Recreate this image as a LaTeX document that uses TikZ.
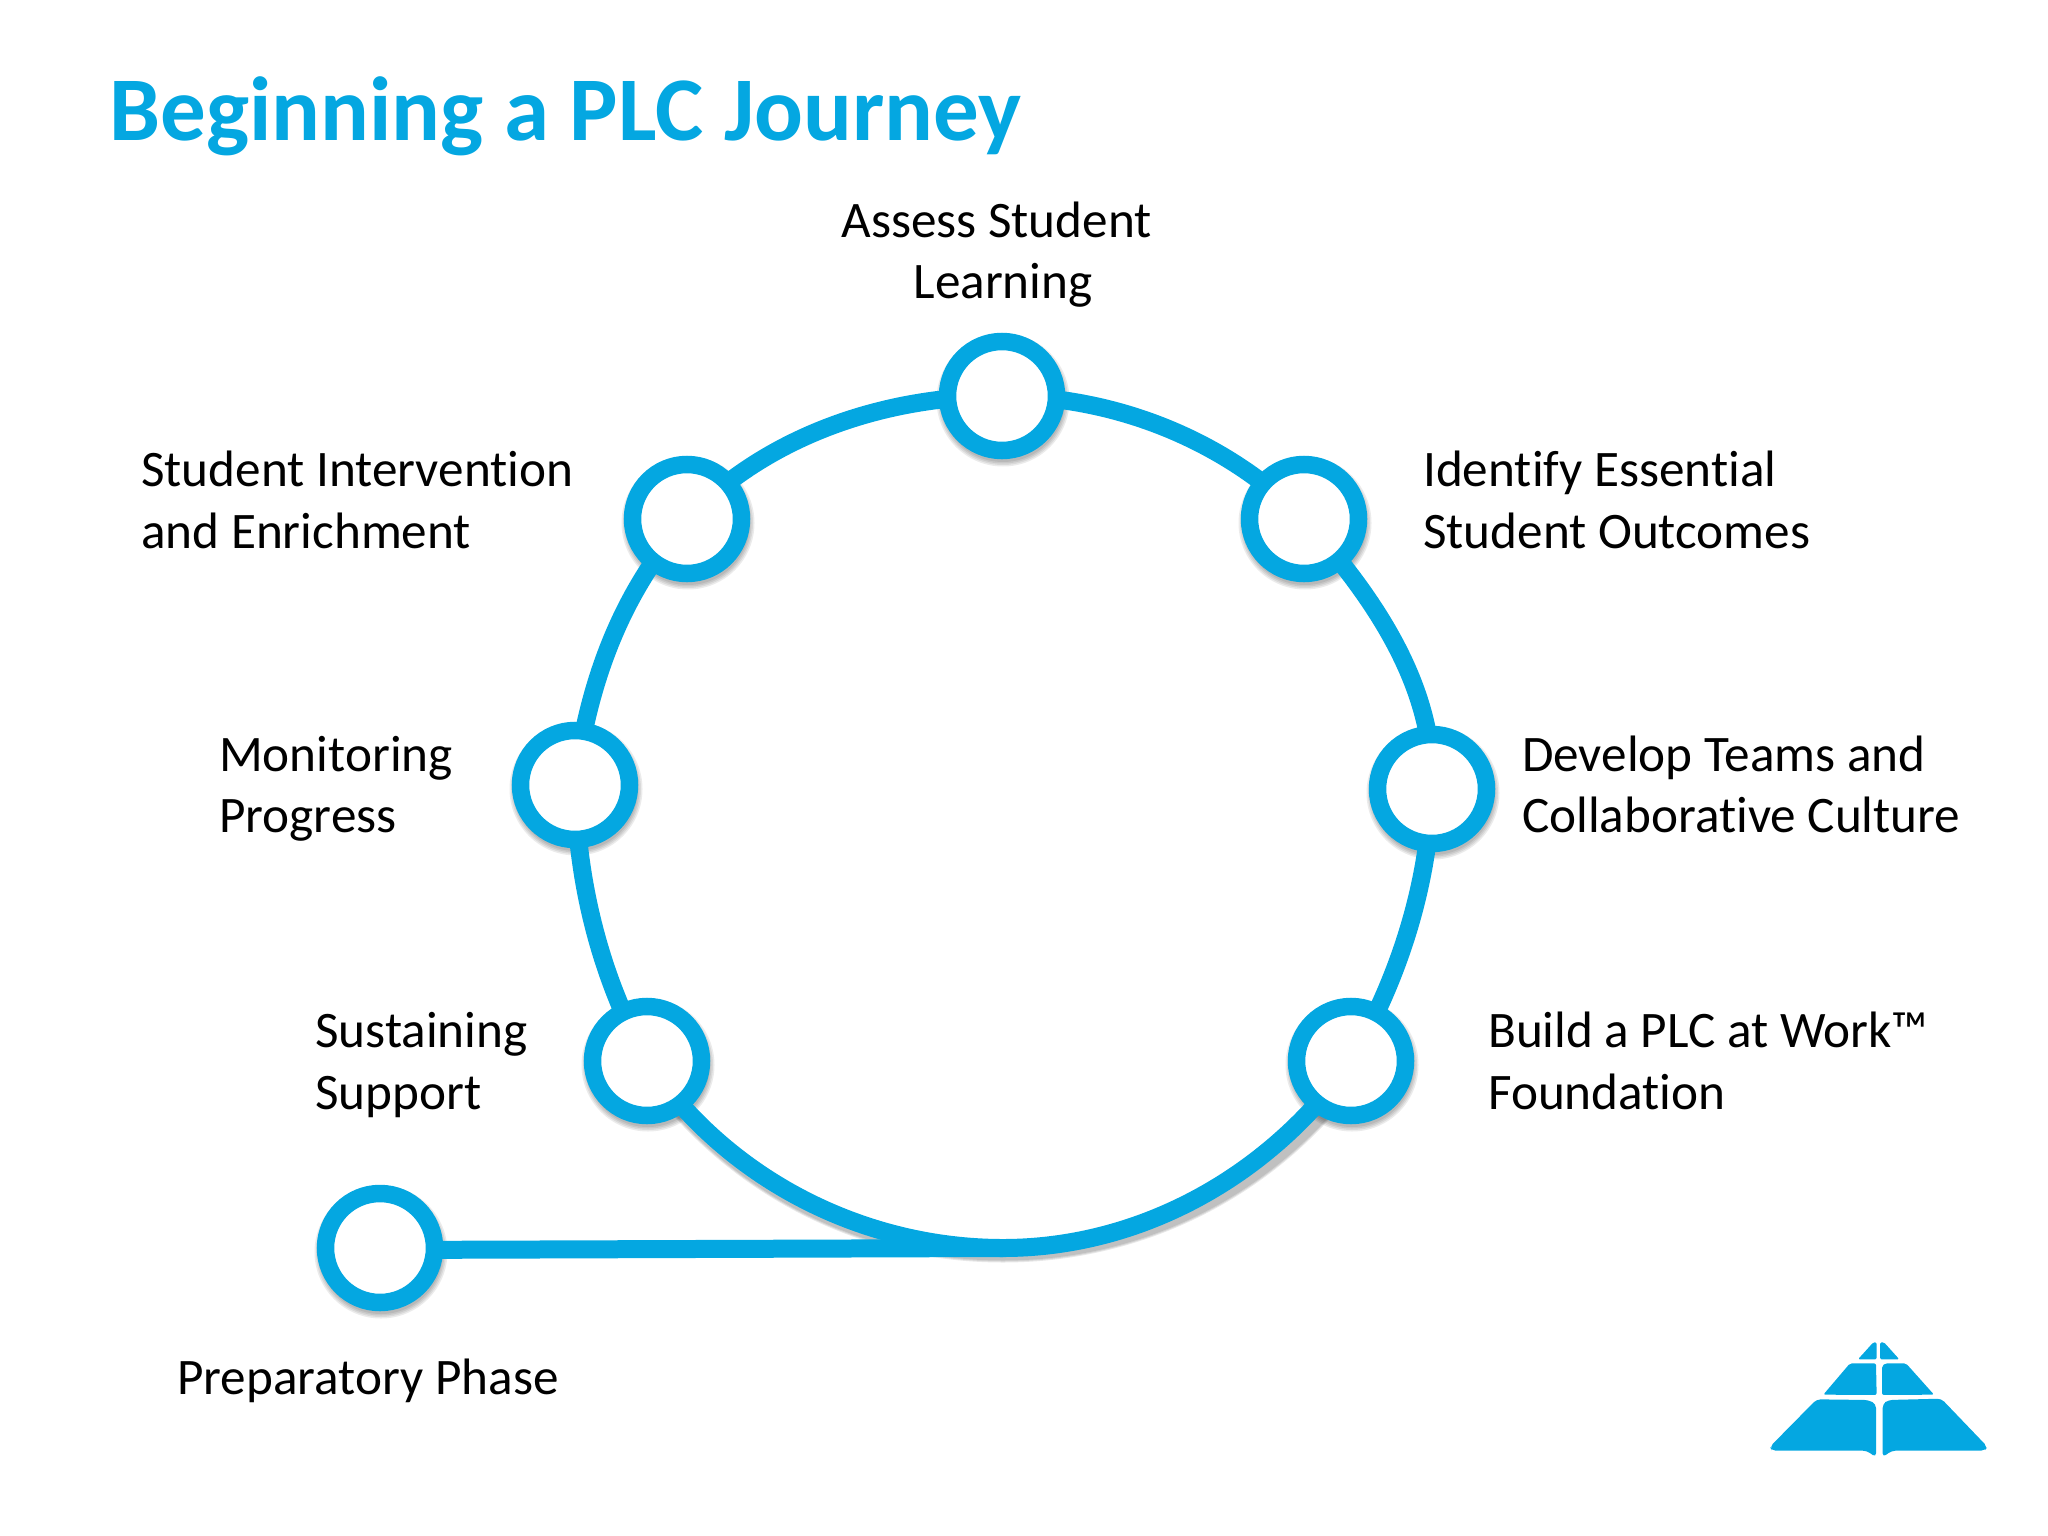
\documentclass[tikz,border=0pt]{standalone}
\usepackage{fontspec}
\setmainfont[Ligatures=CommonOff]{Carlito}
\usetikzlibrary{calc}
\definecolor{plcblue}{RGB}{4,167,225}
\pgfdeclarelayer{shadowlayer}
\pgfdeclarelayer{linelayer}
\pgfsetlayers{shadowlayer,linelayer,main}
\tikzset{
  stopnode/.style={circle,draw=plcblue,fill=white,line width=17.5pt,minimum size=109pt,inner sep=0pt,outer sep=0pt},
  track/.style={draw=plcblue,line width=18pt},
  label/.style={font=\fontsize{51.2}{61.5}\selectfont,text=black,inner sep=0pt,align=left,anchor=base west},
  softshadow/.style={draw=black,opacity=0.09,fill=none},
  logopart/.style={fill=plcblue,draw=none,rounded corners=4pt}
}
\begin{document}
\begin{tikzpicture}[x=1pt,y=-1pt]
\useasboundingbox (0,0) rectangle (2048,1536);
\node[font=\fontsize{91}{91}\bfseries\selectfont,text=plcblue,inner sep=0pt,anchor=base west] (title) at (109,141) {Beginning a PLC Journey};

\node[stopnode] (top) at (1002,396) {};
\node[stopnode] (ne) at (1304,519) {};
\node[stopnode] (e) at (1432,789) {};
\node[stopnode] (se) at (1351,1061) {};
\node[stopnode] (sw) at (647,1061) {};
\node[stopnode] (w) at (575,785) {};
\node[stopnode] (nw) at (687,519) {};
\node[stopnode] (prep) at (380,1248) {};
\coordinate (bot) at (1003,1248);

\begin{pgfonlayer}{shadowlayer}
\foreach \s in {top,ne,e,se,sw,w,nw,prep}{
  \foreach \r in {66.5,65,63.5,62}{
    \fill[black,opacity=0.08] ($(\s)+(1,4)$) circle (\r);
  }
}
\begin{scope}
\clip (600,1040) rectangle (1400,1300);
\foreach \lw in {21,19,17}{
  \draw[softshadow,line width=\lw pt] (1003,826) ellipse [x radius=430,y radius=426];
}
\end{scope}
\end{pgfonlayer}
\begin{pgfonlayer}{linelayer}
\draw[track] (top.center) to[out=0,in=135,looseness=.885] (ne.center);
\draw[track] (ne.center) to[out=-48,in=88,looseness=.885] (e.center);
\draw[track] (e.center) to[out=-92,in=60,looseness=.87] (se.center);
\draw[track] (se.center) to[out=-125,in=0,looseness=.9] (bot);
\draw[track] (bot) to[out=180,in=-56,looseness=.9] (sw.center);
\draw[track] (sw.center) to[out=119,in=-89,looseness=.87] (w.center);
\draw[track] (w.center) to[out=83,in=-132,looseness=.885] (nw.center);
\draw[track] (nw.center) to[out=46,in=180,looseness=.885] (top.center);
\draw[track] ($(prep.center)+(0,2)$) -- (bot);
\end{pgfonlayer}

\node[label,anchor=base,align=center] (t1) at (1003,298.7) {Assess Student\rule{13pt}{0pt}\\Learning};
\node[label] (t2) at (141,548) {Student Intervention\\and Enrichment};
\node[label] (t3) at (1423,548) {Identify Essential\\Student Outcomes};
\node[label] (t4) at (219,832.7) {Monitoring\\Progress};
\node[label] (t5) at (1522,832.7) {Develop Teams and\\Collaborative Culture};
\node[label] (t6) at (315,1109) {Sustaining\\Support};
\node[label] (t7) at (1488,1109) {Build a PLC at Work™\\Foundation};
\node[label] (t8) at (177,1394.5) {Preparatory Phase};

\begin{scope}[shift={(1700,1300)},x=0.3333pt,y=-0.3333pt]
\fill[logopart,rounded corners=1.5pt] (474,178) -- (520,127) -- (530,127) -- (530,178) -- cycle;
\fill[logopart,rounded corners=1.5pt] (540,127) -- (552,127) -- (598,178) -- (540,178) -- cycle;
\fill[logopart,rounded corners=2pt] (370,284) -- (450,190) -- (528,190) -- (530,285) -- cycle;
\fill[logopart,rounded corners=2pt] (546,198) -- (556,190) -- (618,190) -- (702,284) -- (546,285) -- cycle;
\fill[logopart] (210,440) -- (350,298) -- (505,300) -- (528,312) -- (528,472) -- (500,452) -- (215,452) -- cycle;
\fill[logopart] (548,472) -- (548,312) -- (565,300) -- (724,296) -- (862,440) -- (855,452) -- (575,452) -- cycle;
\end{scope}
\end{tikzpicture}
\end{document}
